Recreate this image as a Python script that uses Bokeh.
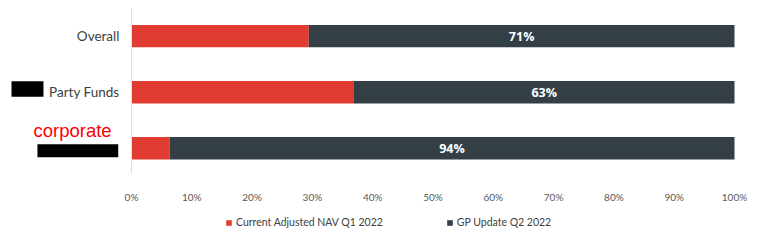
from bokeh.plotting import figure
from bokeh.layouts import column
from bokeh.models import (ColumnDataSource, Range1d, FixedTicker, PrintfTickFormatter,
                          Span, Legend, LegendItem)
from bokeh.core.properties import value
from bokeh.embed import file_html
from bokeh.resources import INLINE

# ---- data ----
categories = ["Overall", "Party Funds", ""]
current_nav = [29.4, 36.9, 6.3]
gp_update = [70.6, 63.1, 93.7]
gp_labels = ["71%", "63%", "94%"]
tick_values = [0, 10, 20, 30, 40, 50, 60, 70, 80, 90, 100]
series_names = ["Current Adjusted NAV Q1 2022", "GP Update Q2 2022"]
annotation_text = ["corporate"]

RED = "#E03C31"
DARK = "#333F45"

ypos = [2, 1, 0]
total = [c + g for c, g in zip(current_nav, gp_update)]
src = ColumnDataSource(dict(
    y=ypos, cat=categories, cur=current_nav, tot=total,
    mid=[(c + t) / 2 for c, t in zip(current_nav, total)], lab=gp_labels,
    zero=[0] * len(ypos),
))

px_per = 6.03  # pixels per percent
p = figure(width=760, height=205, output_backend="svg", toolbar_location=None,
           x_range=Range1d(-131 / px_per, (760 - 131) / px_per),
           y_range=Range1d(-0.450, 2.4935),
           min_border_left=0, min_border_right=0, min_border_top=8, min_border_bottom=27)
p.yaxis.visible = False
p.grid.visible = False
p.outline_line_color = None
p.background_fill_color = "white"
p.border_fill_color = "white"

ax = p.xaxis[0]
ax.ticker = FixedTicker(ticks=tick_values)
ax.formatter = PrintfTickFormatter(format="%d%%")
ax.axis_line_color = None
ax.major_tick_line_color = None
ax.minor_tick_line_color = None
ax.major_label_standoff = 11
ax.major_label_text_font = "Lato"
ax.major_label_text_font_size = "10px"
ax.major_label_text_color = "#595959"

p.add_layout(Span(location=0, dimension="height", line_color="#D9DEE3", line_width=1))

r1 = p.hbar(y="y", left="zero", right="cur", height=0.4, source=src,
            fill_color=RED, line_color=None)
r2 = p.hbar(y="y", left="cur", right="tot", height=0.4, source=src,
            fill_color=DARK, line_color=None)

p.text(x="mid", y="y", text="lab", source=src, text_align="center", text_baseline="middle",
       text_color="white", text_font=value("Open Sans"), text_font_style="bold",
       text_font_size="12.5px")

p.text(x=-2.0, y="y", text="cat", source=src, text_align="right", text_baseline="middle",
       text_color="#404040", text_font=value("Lato"), text_font_size="13.5px")

# redaction boxes and annotation
p.quad(left=[-19.9, -15.6], right=[-14.6, -2.2], bottom=[0.918, -0.16], top=[1.195, 0.07],
       fill_color="black", line_color=None)
p.text(x=[-3.3], y=[0.31], text=annotation_text, text_align="right", text_baseline="middle",
       text_color="#FF0000", text_font=value("Liberation Sans"), text_font_size="18.5px")

# ---- legend strip ----
lg = figure(width=760, height=35, output_backend="svg", toolbar_location=None,
            x_range=Range1d(0, 1), y_range=Range1d(0, 1),
            min_border_left=0, min_border_right=0, min_border_top=0, min_border_bottom=0)
lg.axis.visible = False
lg.grid.visible = False
lg.outline_line_color = None
# legend proxies placed outside the visible range
lr1 = lg.hbar(y=[-5], left=[0], right=[1], height=1, fill_color=RED, line_color=None)
lr2 = lg.hbar(y=[-5], left=[0], right=[1], height=1, fill_color=DARK, line_color=None)

legend = Legend(items=[LegendItem(label=series_names[0], renderers=[lr1]),
                       LegendItem(label=series_names[1], renderers=[lr2])],
                orientation="horizontal", location=(225, 12),
                glyph_width=7, glyph_height=7, label_standoff=4, spacing=63,
                padding=0, margin=0, border_line_color=None, background_fill_alpha=0,
                label_text_font="Lato", label_text_font_size="10.5px",
                label_text_color="#404040", label_height=12)
lg.add_layout(legend, "center")

open("out.html", "w").write(file_html(column(p, lg, spacing=0), INLINE))
